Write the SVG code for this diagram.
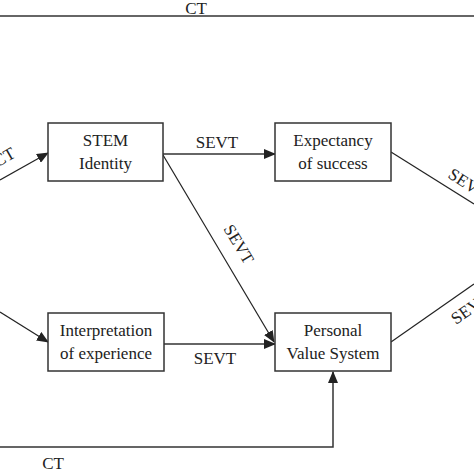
<svg xmlns="http://www.w3.org/2000/svg" width="474" height="474" viewBox="0 0 474 474">
<style>
.box{fill:#fff;stroke:#333;stroke-width:1.5}
.t{font-family:"Liberation Serif","Times New Roman",serif;font-size:17px;fill:#222}
.c{text-anchor:middle}
.ln{fill:none;stroke:#333;stroke-width:1.5}
.dg{fill:none;stroke:#222;stroke-width:1.2}
</style>
<defs>
<marker id="ah" markerWidth="12" markerHeight="10" refX="11" refY="5" orient="auto" markerUnits="userSpaceOnUse">
<path d="M0,0 L12,5 L0,10 Z" fill="#222"/>
</marker>
</defs>
<rect width="474" height="474" fill="#fff"/>
<g id="connectors">
<line class="ln" x1="0" y1="16" x2="474" y2="16"/>
<text class="t c" x="196" y="14">CT</text>
<line class="dg" x1="0" y1="180" x2="48" y2="153" marker-end="url(#ah)"/>
<text class="t c" transform="translate(7,162) rotate(-30)">CT</text>
<line class="dg" x1="0" y1="312" x2="48" y2="342" marker-end="url(#ah)"/>
<line class="ln" x1="163" y1="154" x2="275" y2="154" marker-end="url(#ah)"/>
<text class="t c" x="217" y="148">SEVT</text>
<line class="ln" x1="164" y1="344" x2="275" y2="344" marker-end="url(#ah)"/>
<text class="t c" x="215" y="364">SEVT</text>
<line class="dg" x1="163" y1="155" x2="274" y2="342" marker-end="url(#ah)"/>
<text class="t c" transform="translate(234,247) rotate(59)">SEVT</text>
<line class="dg" x1="391" y1="152" x2="474" y2="204"/>
<text class="t" transform="translate(447,177) rotate(33)">SEVT</text>
<line class="dg" x1="391" y1="342" x2="474" y2="284"/>
<text class="t" transform="translate(456,325) rotate(-35)">SEVT</text>
<polyline class="ln" points="0,447 333,447 333,372" marker-end="url(#ah)"/>
<text class="t c" x="53" y="469">CT</text>
</g>
<g id="stem">
<rect class="box" x="48" y="123" width="115" height="58"/>
<text class="t c" x="105.5" y="146">STEM</text>
<text class="t c" x="105.5" y="169">Identity</text>
</g>
<g id="expectancy">
<rect class="box" x="275" y="123" width="116" height="58"/>
<text class="t c" x="333" y="146">Expectancy</text>
<text class="t c" x="333" y="169">of success</text>
</g>
<g id="interpretation">
<rect class="box" x="48" y="313" width="116" height="58"/>
<text class="t c" x="106" y="336">Interpretation</text>
<text class="t c" x="106" y="359">of experience</text>
</g>
<g id="personal">
<rect class="box" x="275" y="313" width="116" height="58"/>
<text class="t c" x="333" y="336">Personal</text>
<text class="t c" x="333" y="359">Value System</text>
</g>
</svg>
